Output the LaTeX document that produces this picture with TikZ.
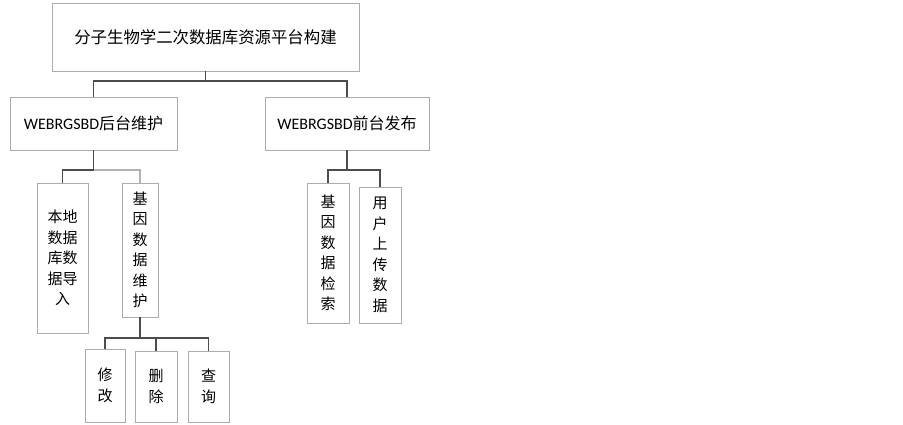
\documentclass[tikz,border=0pt]{standalone}
\usepackage{fontspec}
\setmainfont{Carlito}
\newfontfamily\cjk{Noto Sans CJK SC}
\usetikzlibrary{positioning}

\tikzset{
  box/.style={draw=black!32, line width=0.9pt, inner sep=0pt, align=center},
  vbox/.style={box, font={\cjk\fontsize{15}{20.5}\selectfont}},
  link/.style={draw=black!70, line width=1.8pt},
  linklight/.style={draw=black!30, line width=1.2pt}
}

\begin{document}
\begin{tikzpicture}[x=1pt, y=-1pt]
    \useasboundingbox (0,0) rectangle (903,425);

    \node[box, minimum width=307pt, minimum height=68pt, font={\cjk\fontsize{16.4}{20}\selectfont}] (top) at (205.5, 37) {分子生物学二次数据库资源平台构建};
    \node[box, minimum width=167pt, minimum height=53pt, font=\fontsize{16}{20}\selectfont] (back) at (93.5, 123.5) {WEBRGSBD{\cjk 后台维护}};
    \node[box, minimum width=164pt, minimum height=53pt, font=\fontsize{16}{20}\selectfont] (front) at (347, 123.5) {WEBRGSBD{\cjk 前台发布}};

    \node[vbox, minimum width=51pt, minimum height=150pt] (local) at (62.5, 258) {本地\\数据\\库数\\据导\\入};
    \node[vbox, minimum width=36pt, minimum height=134pt] (gene) at (140, 250) {基\\因\\数\\据\\维\\护};
    \node[vbox, minimum width=42pt, minimum height=140pt] (search) at (328, 253) {基\\因\\数\\据\\检\\索};
    \node[vbox, minimum width=42pt, minimum height=136pt] (upload) at (380, 255) {用\\户\\上\\传\\数\\据};

    \node[vbox, minimum width=40pt, minimum height=73pt] (modify) at (105, 385.5) {修\\改};
    \node[vbox, minimum width=42pt, minimum height=71pt] (delete) at (156, 386.5) {删\\除};
    \node[vbox, minimum width=41pt, minimum height=71pt] (query) at (208.5, 386.5) {查\\询};

    \coordinate (j1) at (205.5, 81);
    \coordinate (j2) at (93.5, 170);
    \coordinate (j3) at (347, 170);
    \coordinate (j4) at (140, 338);

    \draw[link] (top.south) -- (j1) -| (back.north);
    \draw[link] (j1) -| (front.north);
    \draw[link] (back.south) -- (j2) -| (local.north);
    \draw[linklight] (j2) -| (gene.north);
    \draw[link] (front.south) -- (j3) -| (search.north);
    \draw[link] (j3) -| (upload.north);
    \draw[link] (gene.south) -- (j4) -| (modify.north);
    \draw[link] (j4) -| (query.north);
    \draw[link] (j4 -| delete.north) -- (delete.north);

\end{tikzpicture}
\end{document}
